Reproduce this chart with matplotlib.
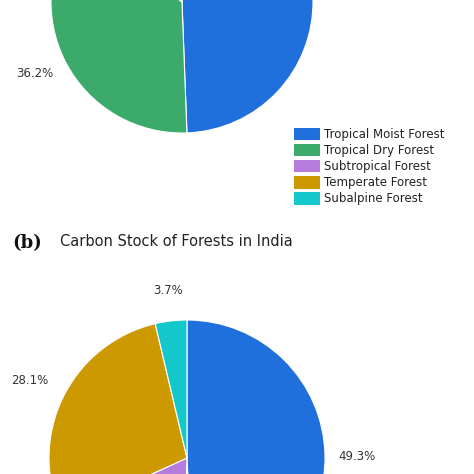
import matplotlib
matplotlib.use("Agg")
import matplotlib.pyplot as plt
from matplotlib.patches import Patch

categories = ["Tropical Moist Forest", "Tropical Dry Forest", "Subtropical Forest",
              "Temperate Forest", "Subalpine Forest"]
colors = ["#1F6FDC", "#3BAA6B", "#B67CDD", "#CC9900", "#13C7CB"]
values_a = [49.4, 36.2, 3.0, 9.3, 2.1]
values_b = [49.3, 1.2, 17.7, 28.1, 3.7]

H = 474
fig = plt.figure(figsize=(4.74, 4.74), dpi=100)
ax = fig.add_axes([0, 0, 1, 1])

wp = dict(edgecolor="white", linewidth=0.8)
ax.pie(values_a, colors=colors, startangle=90, counterclock=False,
       center=(182, H - 2), radius=131, wedgeprops=wp, frame=True)
ax.pie(values_b, colors=colors, startangle=90, counterclock=False,
       center=(187, H - 458), radius=138, wedgeprops=wp, frame=True)
ax.set_xlim(0, 474)
ax.set_ylim(0, 474)
ax.set_aspect("equal")
ax.axis("off")

tc = "#333333"
ax.text(35, H - 73, f"{values_a[1]}%", fontsize=8.5, color=tc, ha="center", va="center")
ax.text(168, H - 291, f"{values_b[4]}%", fontsize=8.5, color=tc, ha="center", va="center")
ax.text(30, H - 381, f"{values_b[3]}%", fontsize=8.5, color=tc, ha="center", va="center")
ax.text(357, H - 457, f"{values_b[0]}%", fontsize=8.5, color=tc, ha="center", va="center")

handles = [Patch(facecolor=c, edgecolor="none") for c in colors]
fig.legend(handles, categories, loc="upper left", bbox_to_anchor=(283 / 474, 1 - 117 / 474),
           frameon=False, fontsize=8.5, handlelength=2.2, handleheight=1.25,
           handletextpad=0.4, labelspacing=0.25, labelcolor="#222222")

ax.text(12, H - 243, "(b)", fontsize=13, fontweight="bold", family="DejaVu Serif",
        ha="left", va="center", color="#111111")
ax.text(60, H - 241, "Carbon Stock of Forests in India", fontsize=10.5,
        ha="left", va="center", color="#222222")

fig.savefig("out.png", dpi=100)
